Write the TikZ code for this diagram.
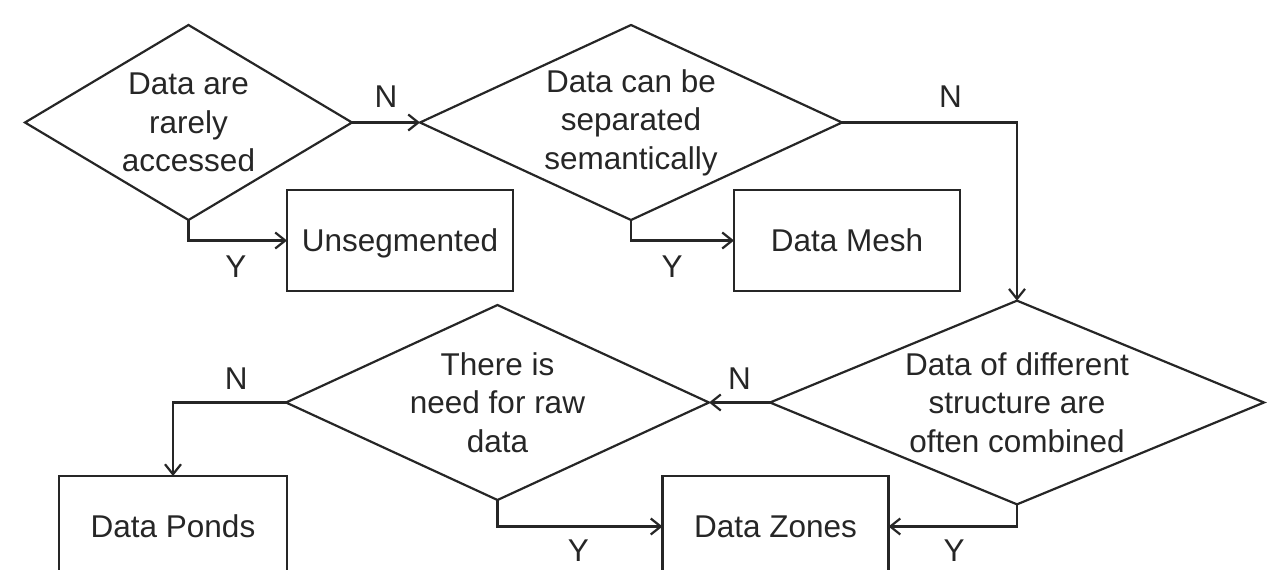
\documentclass[tikz,border=0pt]{standalone}
\usepackage{fontspec}
\setmainfont{Liberation Sans}
\usetikzlibrary{arrows.meta, positioning, shapes.geometric}

\begin{document}
\begin{tikzpicture}[x=1pt, y=-1pt,
    decision/.style={draw, diamond, inner sep=-30pt, outer sep=0pt, align=center},
    outcome/.style={draw, rectangle, minimum width=226pt, minimum height=101pt,
                    inner sep=0pt, outer sep=0pt, text depth=0pt},
    arr/.style={-{Straight Barb[length=10pt, width=16pt]}},
    lbl/.style={inner sep=0pt},
    line width=2.2pt, color=black!85,
    font=\fontsize{31.5}{38.5}\selectfont
]
\useasboundingbox (0,0) rectangle (1283,570);
\clip (0,0) rectangle (1283,570);

% ---- Decisions ----
\node[decision, minimum width=327pt, minimum height=195pt] (rare) at (188.5,122.5) {Data are\\rarely\\accessed};
\node[decision, minimum width=422pt, minimum height=195pt] (semantic) at (631,122.5) {Data can be\\separated\\semantically};
\node[decision, minimum width=494pt, minimum height=195pt] (structure) at (1017,402.5) {Data of different\\structure are\\often combined};
\node[decision, minimum width=423pt, minimum height=195pt] (raw) at (497.5,402.5) {There is\\need for raw\\data};

% ---- Outcomes ----
\node[outcome] (unseg) at (400,240.5) {Unsegmented};
\node[outcome] (mesh) at (847,240.5) {Data Mesh};
\node[outcome, minimum width=228pt] (ponds) at (173,526.5) {Data Ponds};
\node[outcome] (zones) at (775.5,526.5) {Data Zones};

% ---- Connectors ----
\draw[arr] (rare.east) -- node[lbl, above=14pt] (n1) {N} (semantic.west);
\draw[arr] (rare.south) |- node[lbl, pos=.74, below=14pt] (y1) {Y} (unseg.west);
\draw[arr] (semantic.south) |- node[lbl, pos=.7, below=14pt] (y2) {Y} (mesh.west);
\draw[arr] (semantic.east) -| node[lbl, pos=.31, above=14pt] (n2) {N} (structure.north);
\draw[arr] (structure.west) -- node[lbl, above=12pt] (n3) {N} (raw.east);
\draw[arr] (raw.west) -| node[lbl, pos=.22, above=12pt] (n4) {N} (ponds.north);
\draw[arr] (raw.south) |- node[lbl, pos=.745, below=12pt] (y3) {Y} (zones.west);
\draw[arr] (structure.south) |- node[lbl, pos=.745, below=12pt] (y4) {Y} (zones.east);

\end{tikzpicture}
\end{document}
